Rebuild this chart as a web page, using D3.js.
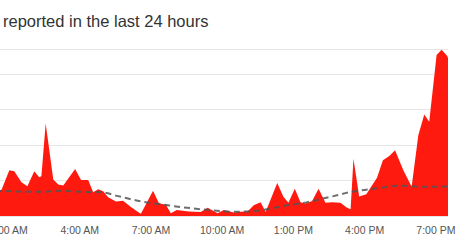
<!DOCTYPE html>
<html>
<head>
<meta charset="utf-8">
<script src="https://cdn.jsdelivr.net/npm/d3@7"></script>
<style>
  body { margin: 0; background: #fff; }
  svg { display: block; }
  .title { font-family: "Liberation Sans", Arial, sans-serif; font-size: 16.5px; fill: #333; }
  .tick text { font-family: "Liberation Sans", Arial, sans-serif; font-size: 10.5px; fill: #555; }
</style>
</head>
<body>
<div id="chart"></div>
<script>
var width  = 474;
var height = 248;

// reports, hour of day (0 = midnight) and count
var reportHours  = [0.48, 0.73, 1.06, 1.27, 1.57, 1.82, 2.11, 2.32, 2.41, 2.59, 2.91, 3.12, 3.33, 3.83,
                    4.08, 4.38, 4.59, 4.80, 5.01, 5.22, 5.55, 5.85, 6.18, 6.48, 6.60, 7.11, 7.36, 7.65,
                    7.86, 8.11, 8.62, 9.12, 9.41, 9.83, 10.09, 10.51, 10.80, 11.09, 11.35, 11.64, 11.85,
                    12.34, 12.60, 12.81, 13.08, 13.32, 13.53, 13.81, 14.08, 14.37, 14.65, 15.00, 15.28,
                    15.43, 15.55, 15.79, 16.09, 16.54, 16.79, 17.06, 17.30, 17.65, 18.00, 18.28, 18.53,
                    18.74, 19.05, 19.26, 19.50, 19.53];
var reportValues = [6.7, 7.4, 12.9, 12.6, 9.5, 8.4, 12.6, 10.9, 11.2, 26.0, 10.3, 8.9, 8.6, 13.2,
                    10.1, 10.1, 6.7, 7.5, 7.0, 5.3, 4.1, 4.3, 2.5, 1.1, 0.6, 7.1, 3.6, 3.2,
                    0.8, 1.7, 1.3, 1.1, 2.3, 0.8, 1.7, 1.0, 1.2, 1.3, 3.0, 3.9, 1.1,
                    9.3, 5.4, 3.7, 7.7, 3.9, 3.5, 4.2, 7.7, 3.7, 3.9, 3.7, 2.3,
                    1.9, 16.1, 5.5, 6.1, 10.8, 15.7, 16.9, 18.5, 12.9, 8.2, 22.7, 28.6,
                    26.5, 45.3, 46.8, 45.0, 44.5];

// typical number of reports (dashed line)
var baselineHours  = [0.48, 2.41, 3.25, 4.21, 4.92, 5.64, 6.60, 7.74, 9.12, 10.59, 11.64, 12.60,
                      13.61, 14.58, 15.54, 16.55, 17.51, 18.48, 19.53];
var baselineValues = [7.1, 6.8, 7.1, 6.8, 6.7, 5.6, 4.1, 3.0, 1.9, 1.2, 1.6, 2.8,
                      3.9, 5.4, 6.9, 7.8, 8.5, 8.2, 8.3];

var yTicks = [0, 10, 20, 30, 40, 47];
var xTicks = [1, 4, 7, 10, 13, 16, 19];

var reports  = reportHours.map((h, i) => ({h: h, v: reportValues[i]}));
var baseline = baselineHours.map((h, i) => ({h: h, v: baselineValues[i]}));

var margin = {left: 0, right: 26, top: 49, bottom: 32};

// the 24 hour window runs off the left edge of the picture
var x = d3.scaleLinear()
   .domain([-4.47, 19.53])
   .range([-122, width - margin.right]);
var y = d3.scaleLinear()
   .domain([0, 47])
   .range([height - margin.bottom, margin.top]);

var svg = d3.select("#chart").append("svg")
   .attr("width", width)
   .attr("height", height);

svg.append("text")
   .attr("class", "title")
   .attr("x", 3)
   .attr("y", 27)
   .text("reported in the last 24 hours");

svg.append("g")
   .selectAll("line")
   .data(yTicks)
   .enter().append("line")
   .attr("x1", 0)
   .attr("x2", x.range()[1])
   .attr("y1", d => Math.round(y(d)) + 0.5)
   .attr("y2", d => Math.round(y(d)) + 0.5)
   .attr("stroke", "#e6e6e6")
   .attr("stroke-width", 1);

var area = d3.area()
   .x(d => x(d.h))
   .y0(y(0))
   .y1(d => y(d.v));

svg.append("path")
   .datum(reports)
   .attr("d", area)
   .attr("fill", "#ff1a10");

var line = d3.line()
   .x(d => x(d.h))
   .y(d => y(d.v))
   .curve(d3.curveMonotoneX);

svg.append("path")
   .datum(baseline)
   .attr("d", line)
   .attr("fill", "none")
   .attr("stroke", "#555")
   .attr("stroke-opacity", 0.85)
   .attr("stroke-width", 2)
   .attr("stroke-dasharray", "6,4");

function hourLabel(h) {
  var hr = h % 12 === 0 ? 12 : h % 12;
  return hr + ":00 " + (h < 12 ? "AM" : "PM");
}

var xAxis = d3.axisBottom(x)
   .tickValues(xTicks)
   .tickFormat(hourLabel)
   .tickSize(0)
   .tickPadding(11);

svg.append("g")
   .attr("transform", "translate(0," + y(0) + ")")
   .call(xAxis)
   .call(g => g.select(".domain").remove());
</script>
</body>
</html>
